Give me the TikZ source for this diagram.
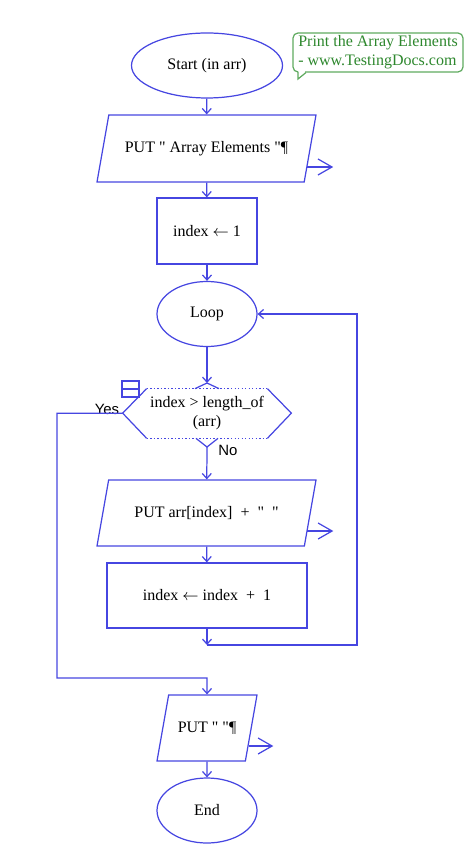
\documentclass[tikz,border=0pt]{standalone}
\usepackage{fontspec}
\setmainfont{Liberation Serif}
\newfontfamily\labelfont{Liberation Sans}
\usetikzlibrary{shapes.geometric,arrows.meta}
\definecolor{flowblue}{RGB}{70,70,225}
\definecolor{notegreen}{RGB}{95,170,95}
\definecolor{notetext}{RGB}{45,135,45}
\newcommand{\qq}{\textquotedbl}
\begin{document}
\begin{tikzpicture}[
  font=\fontsize{9.1}{10.8}\selectfont,
  flowline/.style={draw=flowblue, line width=0.7pt},
  termbox/.style={flowline, ellipse, inner sep=0pt, minimum width=2cm, minimum height=1.3cm},
  iobox/.style={flowline, trapezium, trapezium left angle=80, trapezium right angle=100, trapezium stretches body=true, inner xsep=0pt, inner ysep=0.49cm, text height=0.25cm, text depth=0.09cm, minimum width=4.38cm},
  procbox/.style={flowline, rectangle, inner sep=0pt, minimum width=2cm, minimum height=1.32cm},
  flowarrow/.style={flowline, -{Straight Barb[length=1mm,width=1.8mm]}},
  outarrow/.style={flowline, -{Straight Barb[length=2.8mm,width=3.2mm]}},
  edgelabel/.style={font=\labelfont\fontsize{8.5}{10}\selectfont, inner sep=0pt}
]
\useasboundingbox (0,0) rectangle (9.48,-17.1);
\node[termbox, minimum width=3.02cm] (start) at (4.14,-1.31) {Start (in arr)};
\node[iobox, inner ysep=0.5cm] (putHead) at (4.13,-2.97) {PUT \qq{} Array Elements \qq¶};
\node[procbox] (init) at (4.14,-4.62) {index $\leftarrow$ 1};
\node[termbox] (loop) at (4.14,-6.28) {Loop};
\node[inner sep=0pt, minimum width=2.4cm, minimum height=0.98cm, align=center] (test) at (4.14,-8.27) {index > length\_of\\(arr)};
\node[iobox] (putItem) at (4.13,-10.26) {PUT arr[index] \ + \ \qq{} \ \qq};
\node[procbox, minimum width=4cm, minimum height=1.3cm] (incr) at (4.14,-11.91) {index $\leftarrow$ index \ + \ 1};
\node[iobox, minimum width=2cm] (putTail) at (4.14,-14.56) {PUT \qq{} \qq¶};
\node[termbox] (finish) at (4.14,-16.21) {End};
% decision outline
\coordinate (testTop) at (4.14,-7.66);
\coordinate (testBot) at (4.14,-8.94);
\draw[flowline] (test.north west) -- ++(-0.48,-0.49) coordinate (testLeft) -- (test.south west);
\draw[flowline] (test.north east) -- ++(0.48,-0.49) -- (test.south east);
\draw[flowline, line width=0.5pt, dash pattern=on 0.8pt off 1.2pt] (test.north west) -- (test.north east) (test.south west) -- (test.south east);
\draw[flowline] ([xshift=-0.24cm]test.north) -- (testTop) -- ([xshift=0.24cm]test.north);
\draw[flowline] ([xshift=-0.22cm]test.south) -- (testBot) -- ([xshift=0.22cm]test.south);
\node[flowline, inner sep=0pt, minimum width=0.34cm, minimum height=0.32cm] (fold) at (2.61,-7.78) {};
\draw[flowline] (fold.west) -- (fold.east);
\node[edgelabel] (yes) at (2.14,-8.18) {Yes};
\node[edgelabel] (no) at (4.56,-9.0) {No};
% main flow
\draw[flowarrow] (start) -- (putHead);
\draw[flowarrow] (putHead) -- (init);
\draw[flowarrow] (init) -- (loop);
\draw[flowarrow] (loop) -- (testTop);
\draw[flowarrow] (testBot) -- (putItem);
\draw[flowarrow] (putItem) -- (incr);
\coordinate (loopJoin) at (4.14,-12.9);
\coordinate (loopCorner) at (7.14,-12.9);
\draw[flowarrow] (incr) -- (loopJoin);
\draw[flowarrow] (loopJoin) -- (loopCorner) |- (loop);
\coordinate (yesDown) at (1.14,-13.56);
\coordinate (yesIn) at (4.14,-13.56);
\draw[flowarrow] (testLeft) -| (yesDown) -- (yesIn) -- (putTail);
\draw[flowarrow] (putTail) -- (finish);
% output arrows
\draw[outarrow] ([xshift=-0.07cm,yshift=-0.37cm]putHead.east) -- ++(0.52,0);
\draw[outarrow] ([xshift=-0.07cm,yshift=-0.36cm]putItem.east) -- ++(0.52,0);
\draw[outarrow] ([xshift=-0.05cm,yshift=-0.36cm]putTail.east) -- ++(0.48,0);
% note
\node[draw=notegreen, line width=0.7pt, rounded corners=0.1cm, inner sep=0pt, minimum width=3.4cm, minimum height=0.78cm, align=left, text=notetext] (note) at (7.56,-1.05) {Print the Array Elements\\- www.TestingDocs.com};
\fill[white] ([xshift=0.12cm,yshift=0.03cm]note.south west) rectangle ([xshift=0.26cm,yshift=-0.03cm]note.south west);
\draw[draw=notegreen, line width=0.7pt] ([xshift=0.11cm,yshift=0.02cm]note.south west) -- ++(0,-0.15) -- ([xshift=0.27cm]note.south west);
\end{tikzpicture}
\end{document}
